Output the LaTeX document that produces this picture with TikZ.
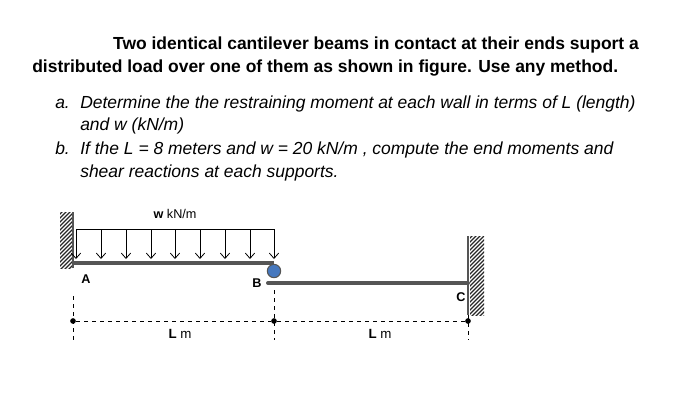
\documentclass[tikz,border=0pt]{standalone}
\usepackage{fontspec}
\setmainfont{Liberation Sans}
\usetikzlibrary{arrows.meta}
\definecolor{beam}{RGB}{85,85,85}
\definecolor{ball}{RGB}{70,120,190}
\begin{document}
\begin{tikzpicture}[x=0.75pt,y=-0.75pt,
  txt/.style={anchor=base west,inner sep=0pt,font=\fontsize{13.1}{15}\selectfont},
  itl/.style={txt,font=\fontsize{13.1}{15}\selectfont\itshape},
  bm/.style={line width=3pt,draw=beam},
  dsh/.style={dashed,line width=0.7pt},
  lbl/.style={inner sep=0pt,font=\fontsize{9.5}{11}\selectfont\bfseries},
  dot/.style={circle,fill=black,inner sep=1.5pt},
  hatchl/.style={line width=0.9pt,black!85}]
\useasboundingbox (0,0) rectangle (700,405);
\node[inner sep=0pt,anchor=base,font=\fontsize{13.1}{15}\selectfont\bfseries] (t1) at (376,49) {Two identical cantilever beams in contact at their ends suport a};
\node[txt,font=\fontsize{13.1}{15}\selectfont\bfseries] (t2) at (32,72) {distributed load over one of them as shown in figure. Use any method.};
\node[itl] (a1) at (55,108) {a.};
\node[itl] (a2) at (80,108) {Determine the the restraining moment at each wall in terms of L (length)};
\node[itl] (a3) at (80,130) {and w (kN/m)};
\node[itl] (b1) at (55,154) {b.};
\node[itl] (b2) at (80,154) {If the L = 8 meters and w = 20 kN/m , compute the end moments and};
\node[itl] (b3) at (80,177) {shear reactions at each supports.};
% walls
\begin{scope}
\clip (60,212) rectangle (72,268);
\foreach \y in {200,204,...,290} \draw[hatchl] (58,\y) -- (76,\y-18);
\end{scope}
\draw[line width=1.5pt,beam] (73,212) -- (73,268);
\begin{scope}
\clip (470,236) rectangle (484,315);
\foreach \y in {224,228,...,340} \draw[hatchl] (468,\y) -- (486,\y-18);
\end{scope}
\draw[line width=1.5pt,beam] (468,236) -- (468,315);
% beams
\coordinate (A) at (73,263); \coordinate (B) at (274,263);
\coordinate (B2) at (268,283); \coordinate (C) at (468,283);
\draw[bm] (A) -- (B);
\draw[bm,line cap=round] (B2) -- (C);
\node[circle,fill=ball,draw=beam,line width=0.8pt,inner sep=0pt,minimum size=10pt] (ballnode) at (274,271) {};
% load
\draw[line width=0.6pt] (76,229) -- (274,229) -- (274,258);
\draw[line width=0.6pt] (76,229) -- (76,258);
\foreach \x in {76,101,126,151,175,200,225,250,274}
  \draw[line width=0.6pt,-{Straight Barb[length=4pt,width=7pt]}] (\x,229) -- (\x,259);
\node[inner sep=0pt,font=\fontsize{9.5}{11}\selectfont] (w) at (175,214) {\textbf{w} kN/m};
\node[lbl] (la) at (86,279) {A};
\node[lbl] (lb) at (257,283) {B};
\node[lbl] (lc) at (461,297) {C};
% dimensions
\node[dot] (d1) at (73,321) {}; \node[dot] (d2) at (274,321) {}; \node[dot] (d3) at (468,321) {};
\draw[dsh] (d1) -- (d2) -- (d3);
\draw[dsh] (73,296) -- (73,340);
\draw[dsh] (274,290) -- (274,340);
\draw[dsh] (468,315) -- (468,340);
\node[inner sep=0pt,font=\fontsize{10}{11}\selectfont] (L1) at (180,334) {\textbf{L} m};
\node[inner sep=0pt,font=\fontsize{10}{11}\selectfont] (L2) at (380,334) {\textbf{L} m};
\end{tikzpicture}
\end{document}
